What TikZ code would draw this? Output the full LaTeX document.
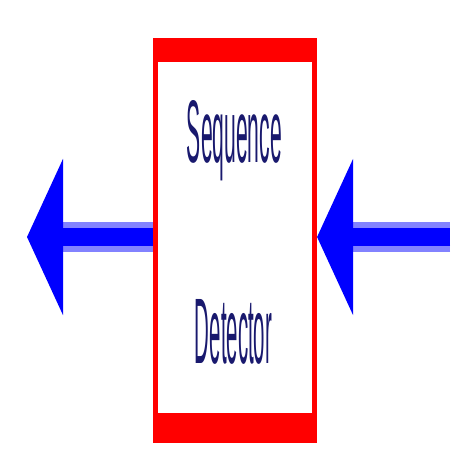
\documentclass[tikz,border=0pt]{standalone}
\usepackage{fontspec}
\setmainfont{Liberation Sans}
\usetikzlibrary{arrows.meta}
\definecolor{navy}{RGB}{25,25,110}
\definecolor{paleblue}{RGB}{130,130,255}
\begin{document}
\begin{tikzpicture}[x=0.01cm, y=-0.01cm,
    sig/.style={blue, line width=0.18cm, -{Triangle[length=0.36cm, width=1.55cm]}},
    glow/.style={paleblue, line width=0.3cm},
    wordtext/.style={navy, inner sep=0pt, anchor=base}]
  \useasboundingbox (0,0) rectangle (474,474);
  % the block
  \node[draw=red, line width=0.05cm, minimum width=1.59cm, minimum height=3.99cm, inner sep=0pt] (box) at (235,240) {};
  \fill[red] (153,38) rectangle (317,62);
  \fill[red] (153,413) rectangle (317,443);
  \node[wordtext] (seq) at (234.5,163) {\resizebox{0.95cm}{0.62cm}{Sequence}};
  \node[wordtext] (det) at (233.5,363) {\resizebox{0.77cm}{0.64cm}{Detector}};
  % signals
  \coordinate (outtip) at (27,237);
  \coordinate (outback) at (63,237);
  \coordinate (intail) at (450,237);
  \coordinate (inback) at (350,237);
  \draw[glow] (box.west |- outtip) -- (outback);
  \draw[glow] (intail) -- (inback);
  \draw[sig] (box.west |- outtip) -- (outtip);
  \draw[sig] (intail) -- (box.east |- intail);
\end{tikzpicture}
\end{document}
